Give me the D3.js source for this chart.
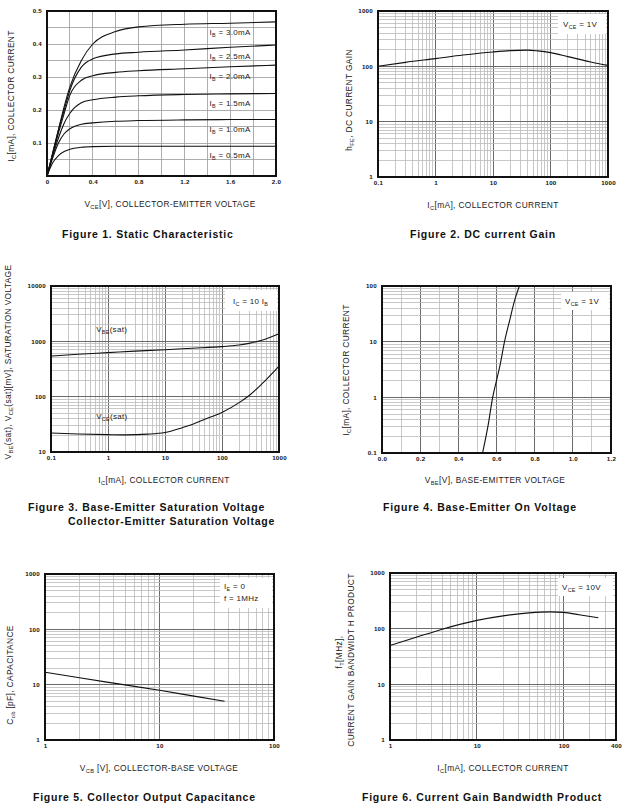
<!DOCTYPE html>
<html><head><meta charset="utf-8">
<script src="https://cdn.jsdelivr.net/npm/d3@7"></script>
<style>
body{margin:0;background:#fff}
svg{display:block}
text{font-family:"Liberation Sans",Arial,Helvetica,sans-serif}
</style>
</head><body>
<svg width="625" height="811"></svg>
<script>
// ---------- DATA ----------
// Figure 1: Static characteristic
const fig1Vce = [0, 0.05, 0.1, 0.15, 0.2, 0.3, 0.4, 0.6, 0.8, 1.2, 1.6, 2.0];
const fig1Ib30 = [0, 0.07, 0.14, 0.21, 0.27, 0.35, 0.40, 0.438, 0.452, 0.460, 0.463, 0.467];
const fig1Ib25 = [0, 0.07, 0.14, 0.20, 0.26, 0.33, 0.355, 0.370, 0.375, 0.382, 0.390, 0.397];
const fig1Ib20 = [0, 0.065, 0.13, 0.19, 0.245, 0.29, 0.304, 0.314, 0.319, 0.325, 0.331, 0.336];
const fig1Ib15 = [0, 0.06, 0.115, 0.16, 0.19, 0.222, 0.231, 0.239, 0.243, 0.247, 0.249, 0.250];
const fig1Ib10 = [0, 0.055, 0.10, 0.128, 0.143, 0.157, 0.161, 0.166, 0.168, 0.170, 0.171, 0.171];
const fig1Ib05 = [0, 0.04, 0.062, 0.074, 0.081, 0.087, 0.089, 0.090, 0.090, 0.090, 0.090, 0.090];
const fig1Labels = ["3.0mA", "2.5mA", "2.0mA", "1.5mA", "1.0mA", "0.5mA"];
const fig1LabelY = [0.437, 0.363, 0.302, 0.222, 0.143, 0.063];
const fig1XTicks = [0, 0.4, 0.8, 1.2, 1.6, 2.0];
const fig1XTickLabels = ["0", "0.4", "0.8", "1.2", "1.6", "2.0"];
const fig1YTicks = [0.1, 0.2, 0.3, 0.4, 0.5];

// Figure 2: DC current gain
const fig2Ic = [0.1, 0.3, 1, 3, 10, 20, 40, 60, 100, 200, 500, 1000];
const fig2Hfe = [100, 118, 138, 160, 182, 192, 196, 190, 177, 150, 120, 104];
const fig2XTicks = [0.1, 1, 10, 100, 1000];
const fig2YTicks = [1, 10, 100, 1000];

// Figure 3: saturation voltages
const fig3IcBe = [0.1, 0.3, 1, 3, 10, 30, 100, 200, 300, 500, 1000];
const fig3Vbe = [543, 583, 624, 664, 706, 750, 802, 860, 920, 1050, 1377];
const fig3IcCe = [0.1, 0.3, 1, 2, 5, 10, 20, 30, 50, 100, 200, 300, 500, 1000];
const fig3Vce = [22, 21.2, 20.6, 20.4, 21, 22.5, 27.5, 31.5, 39, 52, 78, 105, 170, 358];
const fig3XTicks = [0.1, 1, 10, 100, 1000];
const fig3YTicks = [10, 100, 1000, 10000];

// Figure 4: base-emitter on voltage
const fig4Vbe = [0.527, 0.555, 0.58, 0.60, 0.62, 0.642, 0.67, 0.695, 0.72];
const fig4Ic = [0.1, 0.3, 1, 2, 4, 10, 25, 55, 100];
const fig4XTicks = [0, 0.2, 0.4, 0.6, 0.8, 1.0, 1.2];
const fig4XTickLabels = ["0.0", "0.2", "0.4", "0.6", "0.8", "1.0", "1.2"];
const fig4YTicks = [0.1, 1, 10, 100];

// Figure 5: collector output capacitance
const fig5Vcb = [1, 2, 5, 10, 20, 37];
const fig5Cob = [16.8, 13.3, 9.9, 7.9, 6.2, 5.0];
const fig5XTicks = [1, 10, 100];
const fig5YTicks = [1, 10, 100, 1000];

// Figure 6: current gain bandwidth product
const fig6Ic = [1, 2, 4, 10, 20, 40, 70, 100, 150, 250];
const fig6Ft = [50, 70, 98, 141, 170, 192, 200, 196, 178, 157];
const fig6XTicks = [1, 10, 100, 400];
const fig6YTicks = [1, 10, 100, 1000];

// ---------- DRAWING ----------
const svg = d3.select("svg");
const MINOR = "#bababa", MAJOR = "#6a6a6a", TXT = "#222";
const TITLE_FS = 8.4, TITLE_LS = 0.35, LAB_FS = 8, LAB_LS = 0.3;

function rich(t, s) {
  const parts = s.split(/(_\{[^}]*\})/).filter(p => p.length);
  let pending = 0;
  parts.forEach(p => {
    if (p.startsWith("_{")) {
      t.append("tspan").attr("font-size", "0.68em").attr("dy", 2 - pending).text(p.slice(2, -1));
      pending = 2;
    } else {
      const ts = t.append("tspan").text(p);
      if (pending) { ts.attr("dy", -pending); pending = 0; }
    }
  });
}

function logGrid(lo, hi) {
  const out = [];
  for (let d = Math.pow(10, Math.floor(Math.log10(lo))); d < hi * 1.0001; d *= 10) {
    for (let k = 1; k <= 9; k++) {
      const v = k * d;
      if (v > lo * 1.0001 && v < hi * 0.9999) out.push({v, major: k === 1});
    }
  }
  return out;
}

function panel(o) {
  const g = svg.append("g");
  const x = (o.xlog ? d3.scaleLog() : d3.scaleLinear()).domain(o.xd).range([o.l, o.r]);
  const y = (o.ylog ? d3.scaleLog() : d3.scaleLinear()).domain(o.yd).range([o.b, o.t]);
  const grid = g.append("g");
  o.xgrid.forEach(d => grid.append("line")
    .attr("x1", x(d.v)).attr("x2", x(d.v)).attr("y1", o.t).attr("y2", o.b)
    .attr("stroke", d.major ? MAJOR : (o.gridColor || MINOR)).attr("stroke-width", d.major ? 1 : 0.8)
    .attr("shape-rendering", "crispEdges"));
  o.ygrid.forEach(d => grid.append("line")
    .attr("y1", y(d.v)).attr("y2", y(d.v)).attr("x1", o.l).attr("x2", o.r)
    .attr("stroke", d.major ? MAJOR : (o.gridColor || MINOR)).attr("stroke-width", d.major ? 1 : 0.8)
    .attr("shape-rendering", "crispEdges"));

  (o.boxes || []).forEach(b => {
    g.append("rect").attr("x", b.x).attr("y", b.y).attr("width", b.w).attr("height", b.h).attr("fill", "#fff");
    b.lines.forEach((ln, i) => {
      const t = g.append("text").attr("x", b.tx).attr("y", b.ty + i * 12)
        .attr("font-size", LAB_FS).attr("letter-spacing", LAB_LS).attr("fill", TXT);
      rich(t, ln);
    });
  });

  o.series.forEach(s => {
    g.append("path").datum(s.xs.map((v, i) => [v, s.ys[i]]))
      .attr("fill", "none").attr("stroke", "#111").attr("stroke-width", 1.1)
      .attr("d", d3.line().x(d => x(d[0])).y(d => y(d[1])).curve(s.curve || d3.curveMonotoneX));
  });

  g.append("rect").attr("x", o.l).attr("y", o.t).attr("width", o.r - o.l).attr("height", o.b - o.t)
    .attr("fill", "none").attr("stroke", "#111").attr("stroke-width", 1.2).attr("shape-rendering", "crispEdges");

  const fmtX = o.xfmt ? ((d, i) => o.xfmt[i]) : (d => String(d));
  const ax = g.append("g").attr("transform", `translate(0,${o.b})`)
    .call(d3.axisBottom(x).tickValues(o.xticks).tickFormat(fmtX).tickSize(0).tickPadding(4));
  const ay = g.append("g").attr("transform", `translate(${o.l},0)`)
    .call(d3.axisLeft(y).tickValues(o.yticks).tickFormat(o.yfmt || (d => String(d))).tickSize(0).tickPadding(5));
  [ax, ay].forEach(a => {
    a.select(".domain").remove();
    a.selectAll("text").attr("font-size", 6.2).attr("font-weight", "bold").attr("fill", "#111")
      .attr("letter-spacing", 0.25).attr("font-family", '"Liberation Sans",Arial,sans-serif');
  });

  const xt = g.append("text").attr("x", o.xtx).attr("y", o.xty).attr("text-anchor", "middle")
    .attr("font-size", TITLE_FS).attr("letter-spacing", TITLE_LS).attr("fill", TXT);
  rich(xt, o.xtitle);
  o.ytitles.forEach(yt => {
    const t = g.append("text").attr("transform", `translate(${yt.x},${yt.y}) rotate(-90)`)
      .attr("text-anchor", "middle").attr("font-size", TITLE_FS).attr("letter-spacing", TITLE_LS).attr("fill", TXT);
    rich(t, yt.s);
  });
  return {g, x, y};
}

function linGrid(a, b, step, majorEvery) {
  const out = [];
  const n = Math.round((b - a) / step);
  for (let i = 1; i < n; i++) out.push({v: a + i * step, major: majorEvery ? (i % majorEvery === 0) : false});
  return out;
}

// Figure 1
const p1 = panel({
  l: 47, r: 276, t: 11, b: 176, xd: [0, 2], yd: [0, 0.5], gridColor: "#9a9a9a",
  xgrid: linGrid(0, 2, 0.2), ygrid: linGrid(0, 0.5, 0.05),
  series: [fig1Ib30, fig1Ib25, fig1Ib20, fig1Ib15, fig1Ib10, fig1Ib05].map(ys => ({xs: fig1Vce, ys})),
  xticks: fig1XTicks, xfmt: fig1XTickLabels, yticks: fig1YTicks,
  xtitle: "V_{CE}[V], COLLECTOR-EMITTER VOLTAGE", xtx: 170, xty: 207,
  ytitles: [{x: 14, y: 96, s: "I_{C}[mA], COLLECTOR CURRENT"}]
});
fig1Labels.forEach((lab, i) => {
  const t = p1.g.append("text").attr("x", p1.x(1.42)).attr("y", p1.y(fig1LabelY[i]) + 3)
    .attr("font-size", LAB_FS).attr("letter-spacing", LAB_LS).attr("fill", TXT);
  rich(t, "I_{B} = " + lab);
});

// Figure 2
panel({
  l: 378, r: 608, t: 11, b: 177, xlog: true, ylog: true, xd: [0.1, 1000], yd: [1, 1000],
  xgrid: logGrid(0.1, 1000), ygrid: logGrid(1, 1000),
  boxes: [{x: 558, y: 14, w: 48, h: 20, tx: 563, ty: 27, lines: ["V_{CE} = 1V"]}],
  series: [{xs: fig2Ic, ys: fig2Hfe}],
  xticks: fig2XTicks, yticks: fig2YTicks,
  xtitle: "I_{C}[mA], COLLECTOR CURRENT", xtx: 493, xty: 208,
  ytitles: [{x: 352, y: 100, s: "h_{FE}, DC CURRENT GAIN"}]
});

// Figure 3
const p3 = panel({
  l: 51, r: 279, t: 286, b: 452, xlog: true, ylog: true, xd: [0.1, 1000], yd: [10, 10000],
  xgrid: logGrid(0.1, 1000), ygrid: logGrid(10, 10000),
  boxes: [{x: 225, y: 290, w: 52, h: 21, tx: 233, ty: 304, lines: ["I_{C} = 10 I_{B}"]}],
  series: [{xs: fig3IcBe, ys: fig3Vbe}, {xs: fig3IcCe, ys: fig3Vce}],
  xticks: fig3XTicks, yticks: fig3YTicks,
  xtitle: "I_{C}[mA], COLLECTOR CURRENT", xtx: 164, xty: 483,
  ytitles: [{x: 11, y: 362, s: "V_{BE}(sat), V_{CE}(sat)[mV], SATURATION VOLTAGE"}]
});
[["V_{BE}(sat)", 0.62, 1700], ["V_{CE}(sat)", 0.62, 45]].forEach(d => {
  const t = p3.g.append("text").attr("x", p3.x(d[1])).attr("y", p3.y(d[2]) + 3)
    .attr("font-size", LAB_FS).attr("letter-spacing", LAB_LS).attr("fill", TXT);
  rich(t, d[0]);
});

// Figure 4
panel({
  l: 382, r: 611, t: 286, b: 453, ylog: true, xd: [0, 1.2], yd: [0.1, 100],
  xgrid: linGrid(0, 1.2, 0.1, 2), ygrid: logGrid(0.1, 100),
  boxes: [{x: 561, y: 292, w: 48, h: 18, tx: 565, ty: 304, lines: ["V_{CE} = 1V"]}],
  series: [{xs: fig4Vbe, ys: fig4Ic}],
  xticks: fig4XTicks, xfmt: fig4XTickLabels, yticks: fig4YTicks,
  xtitle: "V_{BE}[V], BASE-EMITTER VOLTAGE", xtx: 495, xty: 483,
  ytitles: [{x: 349, y: 370, s: "I_{C}[mA], COLLECTOR CURRENT"}]
});

// Figure 5
panel({
  l: 45, r: 274, t: 574, b: 740, xlog: true, ylog: true, xd: [1, 100], yd: [1, 1000],
  xgrid: logGrid(1, 100), ygrid: logGrid(1, 1000),
  boxes: [{x: 220, y: 578, w: 52, h: 30, tx: 224, ty: 589, lines: ["I_{E} = 0", "f = 1MHz"]}],
  series: [{xs: fig5Vcb, ys: fig5Cob}],
  xticks: fig5XTicks, yticks: fig5YTicks,
  xtitle: "V_{CB} [V], COLLECTOR-BASE VOLTAGE", xtx: 159, xty: 771,
  ytitles: [{x: 13, y: 675, s: "C_{ob} [pF], CAPACITANCE"}]
});

// Figure 6
panel({
  l: 390, r: 616, t: 573, b: 740, xlog: true, ylog: true, xd: [1, 400], yd: [1, 1000],
  xgrid: logGrid(1, 400), ygrid: logGrid(1, 1000),
  boxes: [{x: 558, y: 578, w: 55, h: 18, tx: 562, ty: 590, lines: ["V_{CE} = 10V"]}],
  series: [{xs: fig6Ic, ys: fig6Ft}],
  xticks: fig6XTicks, yticks: fig6YTicks,
  xtitle: "I_{C}[mA], COLLECTOR CURRENT", xtx: 503, xty: 771,
  ytitles: [{x: 342, y: 652, s: "f_{T}[MHz],"}, {x: 354, y: 660, s: "CURRENT GAIN BANDWIDT H PRODUCT"}]
});

// Captions
const captions = [
  {x: 62, y: 238, s: "Figure 1. Static Characteristic"},
  {x: 410, y: 238, s: "Figure 2. DC current Gain"},
  {x: 28, y: 511, s: "Figure 3. Base-Emitter Saturation Voltage"},
  {x: 68, y: 525, s: "Collector-Emitter Saturation Voltage"},
  {x: 383, y: 511, s: "Figure 4. Base-Emitter On Voltage"},
  {x: 33, y: 801, s: "Figure 5. Collector Output Capacitance"},
  {x: 362, y: 801, s: "Figure 6. Current Gain Bandwidth Product"}
];
svg.selectAll("text.cap").data(captions).enter().append("text").attr("class", "cap")
  .attr("x", d => d.x).attr("y", d => d.y).attr("font-size", 10.5).attr("font-weight", "bold")
  .attr("letter-spacing", 0.75).attr("fill", "#111").text(d => d.s);
</script>
</body></html>
